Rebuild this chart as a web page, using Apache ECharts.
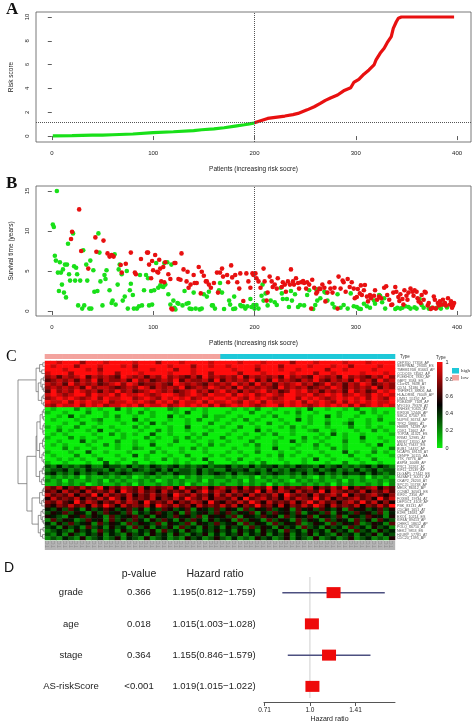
<!DOCTYPE html>
<html>
<head>
<meta charset="utf-8">
<script src="https://cdn.jsdelivr.net/npm/echarts@6.0.0/dist/echarts.min.js"></script>
<style>
    html, body { margin: 0; padding: 0; background: #fff; }
    #main { width: 474px; height: 724px; }
</style>
</head>
<body>
<div id="main"></div>
<script>
// ---------- A: risk score curve ----------
var patientTicks = [0, 100, 200, 300, 400];
var riskTicks = [0, 2, 4, 6, 8, 10];
var riskCut = 1.12;
var cutPatient = 200;
var riskLowX = [1, 20, 40, 50, 60, 80, 100, 120, 140, 148, 160, 170, 181, 190, 195, 200];
var riskLowY = [0.02, 0.04, 0.07, 0.08, 0.11, 0.17, 0.28, 0.36, 0.46, 0.53, 0.6, 0.7, 0.84, 0.95, 1.02, 1.1];
var riskHighX = [200, 213, 230, 238, 243, 252, 259, 265, 270, 275, 282, 288, 295, 298, 303, 308, 313, 318, 320, 324, 328, 331, 335, 337, 340, 342, 345, 397];
var riskHighY = [1.12, 1.48, 1.68, 1.8, 1.9, 2.2, 2.46, 2.74, 3.0, 3.2, 3.45, 3.8, 4.06, 4.5, 4.76, 5.2, 5.55, 5.97, 6.4, 6.95, 7.37, 7.84, 8.35, 9.05, 9.6, 9.9, 10, 10];

// ---------- B: survival time ----------
var timeTicks = [0, 5, 10, 15];
var aliveTime = [[1,10.8],[2,10.5],[5,15.0],[3,6.9],[4,6.3],[6,4.8],[7,2.5],[8,6.1],[9,4.8],[10,3.3],[11,5.2],[12,2.3],[13,5.8],[14,1.7],[15,5.8],[16,8.4],[17,4.6],[18,3.8],[21,9.7],[22,5.6],[23,3.8],[24,5.4],[25,4.6],[26,0.7],[28,3.8],[30,0.3],[31,7.6],[32,0.7],[34,5.8],[35,3.8],[37,0.3],[38,6.3],[39,0.3],[41,5.1],[42,2.4],[45,2.5],[46,9.7],[47,7.3],[48,3.7],[50,0.7],[52,4.5],[53,4.0],[54,5.1],[57,2.6],[59,1.0],[60,1.3],[62,7.1],[63,0.8],[65,3.3],[66,5.2],[67,5.8],[69,4.6],[70,1.3],[72,1.8],[74,5.0],[75,0.3],[77,2.6],[78,3.4],[80,2.0],[81,0.3],[84,0.3],[86,0.6],[87,4.5],[89,0.7],[91,2.6],[93,4.5],[95,4.1],[96,0.7],[98,2.5],[99,0.8],[101,2.6],[103,6.0],[105,2.9],[107,3.2],[108,3.1],[110,3.0],[111,6.0],[112,3.3],[114,6.1],[115,2.1],[117,0.8],[118,5.8],[120,1.3],[121,0.4],[122,0.2],[124,1.0],[125,0.9],[129,0.7],[131,2.5],[133,0.9],[135,1.0],[136,0.3],[138,0.25],[140,2.3],[142,0.3],[146,0.2],[148,0.3],[150,2.1],[153,1.8],[155,2.4],[158,0.7],[159,0.7],[161,0.3],[165,2.6],[166,3.5],[168,2.3],[170,0.25],[175,1.3],[176,0.8],[179,0.25],[180,1.8],[181,0.3],[186,0.75],[187,0.6],[189,0.6],[191,0.3],[193,0.6],[196,1.5],[197,0.5],[199,0.75],[200,0.3],[202,0.75],[204,0.3],[207,1.9],[208,3.3],[209,1.3],[211,2.2],[213,0.7],[216,1.3],[220,1.1],[222,0.75],[226,2.9],[227,2.2],[228,1.5],[232,1.5],[234,0.5],[236,2.5],[237,1.3],[240,2.1],[243,0.5],[245,0.75],[249,0.7],[252,2.0],[254,2.6],[258,0.25],[260,0.75],[261,2.7],[262,1.3],[265,1.6],[269,2.4],[270,2.3],[272,1.3],[277,0.9],[279,0.45],[282,2.1],[285,0.4],[288,0.75],[292,0.3],[295,2.2],[298,0.6],[301,0.5],[303,0.3],[305,0.25],[308,0.9],[311,0.6],[314,0.4],[318,1.3],[319,0.9],[323,2.0],[324,1.9],[326,1.1],[328,1.6],[329,0.3],[339,0.25],[341,0.4],[344,0.3],[346,0.4],[349,0.6],[352,0.5],[354,0.3],[358,0.45],[360,0.3],[363,1.5],[365,0.75],[367,0.4],[372,0.3],[375,0.4],[380,0.4],[382,0.5],[384,0.3],[386,0.8],[390,0.45]];
var deadTime = [[19,9.0],[20,9.9],[27,12.7],[29,7.5],[36,5.3],[43,9.2],[44,7.4],[51,8.8],[55,7.2],[57,6.8],[59,7.0],[60,6.9],[61,6.8],[68,5.75],[69,4.8],[73,5.9],[78,7.3],[82,4.8],[83,4.6],[88,6.5],[94,7.3],[95,7.3],[96,5.8],[98,4.1],[99,6.25],[100,5.1],[102,7.0],[104,4.9],[105,4.8],[106,6.4],[107,5.3],[108,3.7],[110,5.5],[111,3.6],[112,6.1],[115,4.6],[117,4.0],[118,0.3],[119,0.2],[121,6.0],[122,6.0],[125,4.0],[127,3.9],[128,7.2],[130,5.2],[133,3.7],[134,4.9],[135,2.9],[137,3.3],[140,4.5],[141,3.5],[143,3.5],[145,5.5],[147,2.2],[148,4.9],[150,4.4],[152,3.7],[153,3.7],[155,3.3],[157,2.9],[160,3.5],[163,4.8],[164,2.3],[166,4.8],[168,5.3],[169,4.3],[173,4.5],[174,3.6],[177,5.7],[178,4.2],[181,4.5],[183,3.6],[185,2.8],[186,4.7],[189,1.25],[192,4.7],[194,3.7],[196,2.9],[198,4.7],[199,4.5],[201,4.7],[202,4.1],[204,3.7],[206,2.9],[209,5.3],[210,3.7],[212,1.3],[213,2.3],[215,4.3],[217,3.7],[218,3.0],[220,3.3],[222,2.8],[223,4.1],[227,3.0],[228,3.6],[230,3.3],[231,2.4],[233,3.7],[235,3.3],[236,5.2],[238,3.7],[239,3.3],[241,4.1],[243,3.5],[244,2.8],[246,3.6],[248,3.75],[249,3.5],[251,2.8],[252,3.6],[254,3.3],[256,0.3],[257,3.9],[259,2.9],[261,2.2],[262,2.4],[264,2.8],[265,2.75],[267,3.3],[269,2.9],[270,1.2],[272,2.3],[274,3.6],[275,2.8],[277,2.3],[279,2.9],[282,0.3],[283,4.3],[285,2.8],[287,3.8],[288,3.6],[290,2.4],[292,4.0],[294,3.0],[296,3.6],[298,2.8],[299,1.6],[301,1.75],[302,2.75],[304,2.2],[305,3.2],[306,2.0],[308,2.6],[309,3.25],[311,1.8],[312,1.2],[314,2.0],[315,1.6],[318,1.9],[319,2.6],[321,1.4],[323,1.8],[325,1.6],[328,2.9],[330,3.1],[331,2.0],[333,1.4],[335,0.75],[336,0.8],[337,2.3],[339,3.0],[340,2.4],[342,1.75],[343,1.25],[344,2.1],[346,1.5],[347,0.8],[348,2.6],[350,1.9],[351,1.4],[352,2.3],[354,2.8],[356,2.4],[357,1.9],[358,2.6],[360,2.4],[361,1.6],[362,1.2],[364,1.0],[365,2.0],[367,1.4],[368,2.4],[369,2.3],[371,0.7],[372,1.0],[374,0.25],[376,0.4],[377,1.8],[378,1.4],[379,0.3],[381,1.0],[382,0.7],[383,1.2],[385,0.8],[386,1.4],[388,1.0],[389,0.7],[391,1.6],[393,0.8],[394,1.2],[395,0.4],[396,0.7],[397,1.0]];

// ---------- C: heatmap (digit d = value d/9), [low-risk half, high-risk half] ----------
var heatRows = [
    ['998999799989999899979998999989', '999899989999799989999899989999'],
    ['989997999899989799999899979989', '989999899979999899989979999899'],
    ['999899989799999899899979989999', '998999799989989999799899998999'],
    ['899979999899799989999899989979', '999799989999899979989999899989'],
    ['786878968787698786879787686978', '787968787869787698786978768797'],
    ['678786879687786978678796877869', '687879686978768797687869786978'],
    ['878697878678979867787698787687', '879786978687897867978687986787'],
    ['787878697887678798687879678798', '786978787697878678798687879687'],
    ['697879878687978678987867897868', '978687897867989786878697867989'],
    ['898789979889798898789987898798', '897989789879988978989789879898'],
    ['789898789798899789879898978989', '989879898789979898789898979879'],
    ['988979898897889898798979889798', '898798979889897989879798989889'],
    ['879889798978898979889789898979', '789898789979898789898979789898'],
    ['010002010100301001000210010100', '001010200100010300100102001000'],
    ['100100020010001020100010300100', '010002001001020010001000201010'],
    ['001030100010200100100301000201', '100100010200010100301001000100'],
    ['010001001200100301000100102001', '001020100010030100100010010200'],
    ['000100200100010010301000100020', '010001002001000100200130010001'],
    ['101002001001000201000100300100', '100200100010201000100020010100'],
    ['002010010300100010020100100010', '001000301000100120010001002010'],
    ['010100001002010100300100010200', '010010010200100001030100100001'],
    ['100020100100010002010010201000', '200100100010002010100100300100'],
    ['001000301000200100100020010010', '010002000100301001000200100010'],
    ['010100010020100100300100001020', '100010200100010020100100010300'],
    ['000201001000100210010001020100', '001000100300100010020100001002'],
    ['100010030010001000201001000100', '010100200010010001000301002010'],
    ['010002001000100301000100200010', '100010001020100100100020010001'],
    ['001010100200010001002010010300', '010200100010001030010001002000'],
    ['100100010030100200100010100020', '001001020001001000100200100100'],
    ['324232342243324232432342323423', '342324233423243324234232342432'],
    ['233423243324232432342423324232', '243342324232433242342324234233'],
    ['342324232432343223423243324234', '324233423432324234232433424323'],
    ['121212021121212012121120212112', '212112021211212102121211202121'],
    ['212021121202121121201212112021', '121202112121021212112021211212'],
    ['112121201211212021121212021121', '211212120212112121202121121202'],
    ['768576867957687685767859676857', '867586769586767857686957678576'],
    ['675867586768597686758676857968', '758676958687586769587676857686'],
    ['867685769586768576867597686758', '686758676859767586786957678657'],
    ['586768576869758676857686976857', '768596786758687696857678675968'],
    ['768659687576868759676857687596', '576869758676857968675786968575'],
    ['657686758697586768597686758676', '868576967585768697586768576869'],
    ['435364253465346352436534625436', '354263546345264536435264534635'],
    ['354635425364536243564352634536', '463546253645362453625436453624'],
    ['543254635426345635254364536254', '536254364526354625436254365425'],
    ['263542364526353642536425364253', '452635426354263542635426352643'],
    ['425363452635426354362543625436', '345263542635462354263546235426'],
    ['342534263425342635243526342534', '253426354253426342534263425342'],
    ['234325342634253243526342532435', '342534253426342534253426342534'],
    ['324253243524325342534253243524', '243524352435243524325342435243'],
    ['232432523423524325234232534235', '324232534235243252342352342325']
];
var rowLabels = ['CEP350_77358_AP', 'SERPINA1_29345_ES', 'TMEM176B_81663_AP', 'CCDC69_74562_AP', 'PLEKHO1_7830_AP',
    'GBP2_3584_ES', 'C1orf21_9638_AT', 'CD74_74186_ES', 'TNFSF13_38806_AA', 'HLA-DRB1_76049_AP',
    'LIMS1_55192_AP', 'PDE4DIP_7108_AP', 'MYO1G_79378_AT', 'SNHG8_70325_AT', 'KIF20B_12446_AP',
    'SMC4_67567_ES', 'NUP93_36734_AP', 'TPX2_58881_AT', 'HMMR_74289_AP', 'CDK1_11602_AP',
    'TOP2A_41321_ES', 'RRM2_52985_AT', 'MKI67_13550_AP', 'ANLN_79437_ES', 'BUB1_54432_AP',
    'NCAPG_69153_AT', 'CENPF_10115_AA', 'TTK_76776_AP', 'ASPM_10088_AP', 'PRC1_32267_AT',
    'KIF11_12539_AP', 'DLGAP5_27442_ES', 'NUSAP1_30071_AP', 'CKAP2_26203_AT', 'SPC25_55738_AP',
    'MELK_86312_AP', 'CCNB2_30563_ES', 'KIF2C_2356_AP', 'FOXM1_19734_AT', 'DEPDC1_4103_AP',
    'PBK_83131_AP', 'CDCA8_1651_AT', 'E2F8_14681_AP', 'EXO1_10214_ES', 'KIF4A_89413_AP',
    'CHEK1_18612_AP', 'POLQ_66710_AT', 'NEK2_9853_ES', 'HJURP_57781_AT', 'CDC20_1395_AP'];
var sampleIds = ['TCGA-CJ-4642', 'TCGA-B0-5094', 'TCGA-CZ-5985', 'TCGA-A3-3376', 'TCGA-BP-4158', 'TCGA-CW-5580',
    'TCGA-B8-5163', 'TCGA-AK-3456', 'TCGA-BP-4975', 'TCGA-CJ-5681', 'TCGA-B2-4101', 'TCGA-BP-5184',
    'TCGA-AS-3777', 'TCGA-B0-4827', 'TCGA-CZ-5463', 'TCGA-A3-3320', 'TCGA-BP-4331', 'TCGA-CJ-6030',
    'TCGA-B8-4622', 'TCGA-AK-3433', 'TCGA-BP-5000', 'TCGA-CW-6097', 'TCGA-B0-4703', 'TCGA-CZ-4859',
    'TCGA-A3-3362', 'TCGA-BP-4768', 'TCGA-CJ-4868', 'TCGA-B4-5378', 'TCGA-AK-3445', 'TCGA-BP-4345',
    'TCGA-CZ-5454', 'TCGA-B0-5711', 'TCGA-CJ-4905', 'TCGA-A3-3347', 'TCGA-BP-4992', 'TCGA-CW-5591',
    'TCGA-B8-5549', 'TCGA-AK-3461', 'TCGA-BP-4161', 'TCGA-CJ-6031', 'TCGA-B2-5636', 'TCGA-BP-5191',
    'TCGA-AS-3778', 'TCGA-B0-5099', 'TCGA-CZ-5468', 'TCGA-A3-3387', 'TCGA-BP-4167', 'TCGA-CJ-4871',
    'TCGA-B8-4148', 'TCGA-AK-3427', 'TCGA-BP-4998', 'TCGA-CW-5587', 'TCGA-B0-4698', 'TCGA-CZ-4863',
    'TCGA-A3-3358', 'TCGA-BP-4765', 'TCGA-CJ-4895', 'TCGA-B4-5836', 'TCGA-AK-3444', 'TCGA-BP-4352'];
var colorTicks = [0, 0.2, 0.4, 0.6, 0.8, 1];
// dendrogram: [height, left, right], leaves are row indices
var dendroTree = [1.0,
    [0.33,
        [0.2, [0.08, 0, 1], [0.12, 2, 3]],
        [0.25, [0.15, [0.06, 4, 5], [0.1, 6, [0.05, 7, 8]]], [0.12, [0.07, 9, 10], [0.05, 11, 12]]]],
    [0.67,
        [0.33,
            [0.3, [0.18, [0.1, [0.05, 13, 14], [0.06, 15, 16]], [0.08, [0.04, 17, 18], [0.07, 19, 20]]],
                [0.2, [0.09, [0.05, 21, 22], [0.04, 23, 24]], [0.11, [0.06, 25, 26], [0.05, 27, 28]]]],
            [0.2, [0.1, [0.05, 29, 30], 31], [0.12, [0.06, 32, 33], 34]]],
        [0.48,
            [0.2, [0.1, [0.06, 35, 36], 37], [0.12, [0.05, 38, 39], 40]],
            [0.25, [0.15, [0.08, 41, 42], [0.1, 43, [0.05, 44, 45]]], [0.17, [0.07, 46, 47], [0.09, 48, 49]]]]]];

// ---------- D: forest plot ----------
var forestVars = ['grade', 'age', 'stage', 'AS-riskScore'];
var forestP = ['0.366', '0.018', '0.364', '<0.001'];
var forestHR = [1.195, 1.015, 1.155, 1.019];
var forestLow = [0.812, 1.003, 0.846, 1.015];
var forestHigh = [1.759, 1.028, 1.579, 1.022];
var forestTicks = ['0.71', '1.0', '1.41'];
var forestRange = [0.7071, 1.9];
var forestRef = 1;

// ---------- build ----------
var RED = '#e81010', GREEN = '#19e019';
var nLow = heatRows[0][0].length;
var heatData = [];
heatRows.forEach(function (row, r) {
    var s = row[0] + row[1];
    for (var c = 0; c < s.length; c++) {
        heatData.push([c, r, Number(s[c]) / 9]);
    }
});
var dendroLinks = [];
function layoutNode(node) {
    if (typeof node === 'number') {
        return {y: node + 0.5, h: 0};
    }
    var l = layoutNode(node[1]);
    var r = layoutNode(node[2]);
    dendroLinks.push([node[0], l.y, r.y, l.h, r.h]);
    return {y: (l.y + r.y) / 2, h: node[0]};
}
layoutNode(dendroTree);

function zip(xs, ys) {
    return xs.map(function (x, i) { return [x, ys[i]]; });
}
var log2 = function (v) { return Math.log(v) / Math.LN2; };

var hrText = forestHR.map(function (v, i) {
    return v.toFixed(3) + '(' + forestLow[i].toFixed(3) + '\u2212' + forestHigh[i].toFixed(3) + ')';
});

var tickStyle = {color: '#333', width: 0.8};
function patientAxis(grid) {
    return {
        type: 'value', gridIndex: grid, min: -15.6, max: 413.7,
        axisLine: {show: false}, splitLine: {show: false},
        axisTick: {show: true, length: 4, customValues: patientTicks, lineStyle: tickStyle},
        axisLabel: {customValues: patientTicks, fontSize: 6, color: '#222', margin: 8},
        name: 'Patients (increasing risk socre)', nameLocation: 'middle', nameGap: 24,
        nameTextStyle: {fontSize: 6.5, color: '#222'}
    };
}
function valueYAxis(grid, min, max, ticks, title) {
    return {
        type: 'value', gridIndex: grid, min: min, max: max,
        axisLine: {show: false}, splitLine: {show: false},
        axisTick: {show: true, length: 4, customValues: ticks, lineStyle: tickStyle},
        axisLabel: {customValues: ticks, fontSize: 6, color: '#222', margin: 6, rotate: 90},
        name: title, nameLocation: 'middle', nameRotate: 90, nameGap: 21,
        nameTextStyle: {fontSize: 6.5, color: '#222'}
    };
}
function hidden(type, grid, extra) {
    var a = {type: type, gridIndex: grid, show: false};
    for (var k in extra) a[k] = extra[k];
    return a;
}
var dotted = {type: 'dotted', color: '#555', width: 1};

// annotation strip cell, a little wider than the column so neighbours meet
function renderTypeCell(params, api) {
    var c = api.coord([api.value(0), 1]);
    var b = api.coord([api.value(0), 0]);
    var w = api.size([1, 0])[0];
    return {
        type: 'rect',
        shape: {x: c[0] - w / 2 - 0.3, y: c[1], width: w + 0.6, height: b[1] - c[1]},
        style: {fill: api.visual('color')}
    };
}

var chart = echarts.init(document.getElementById('main'));
var option = {
    animation: false,
    backgroundColor: '#fff',
    textStyle: {fontFamily: 'Liberation Sans, Arial, sans-serif'},
    grid: [
        {left: 32, top: 12, width: 439, height: 130, show: true, borderColor: '#555', borderWidth: 0.8},
        {left: 32, top: 186, width: 439, height: 130, show: true, borderColor: '#555', borderWidth: 0.8},
        {left: 45, top: 354, width: 350, height: 5},
        {left: 45, top: 361, width: 350, height: 179},
        {left: 18, top: 361, width: 27, height: 179},
        {left: 437, top: 362, width: 5.5, height: 86},
        {left: 264, top: 577, width: 131, height: 128}
    ],
    xAxis: [
        patientAxis(0),
        patientAxis(1),
        hidden('category', 2, {data: sampleIds, boundaryGap: true}),
        {
            type: 'category', gridIndex: 3, data: sampleIds,
            axisLine: {show: false}, axisTick: {show: false},
            axisLabel: {interval: 0, rotate: 90, fontSize: 5, lineHeight: 6.2, color: '#8c8c8c', margin: 1,
                backgroundColor: '#b3b3b3', width: 9, overflow: 'truncate', ellipsis: ''}
        },
        hidden('value', 4, {min: 0, max: 1, inverse: true}),
        hidden('category', 5, {data: ['bar']}),
        {
            type: 'value', gridIndex: 6, min: log2(forestRange[0]), max: log2(forestRange[1]),
            splitLine: {show: false},
            axisLine: {show: true, lineStyle: {color: '#555', width: 1}},
            axisTick: {show: true, length: 4, customValues: forestTicks.map(function (t) { return log2(+t); }),
                lineStyle: {color: '#555'}},
            axisLabel: {
                customValues: forestTicks.map(function (t) { return log2(+t); }),
                fontSize: 6.5, color: '#222', margin: 5,
                formatter: function (v) {
                    var best = 0;
                    forestTicks.forEach(function (t, i) {
                        if (Math.abs(log2(+t) - v) < Math.abs(log2(+forestTicks[best]) - v)) best = i;
                    });
                    return forestTicks[best];
                }
            },
            name: 'Hazard ratio', nameLocation: 'middle', nameGap: 14,
            nameTextStyle: {fontSize: 7, color: '#222'}
        }
    ],
    yAxis: [
        valueYAxis(0, -0.5, 10.42, riskTicks, 'Risk score'),
        valueYAxis(1, -0.625, 15.625, timeTicks, 'Survival time (years)'),
        hidden('value', 2, {min: 0, max: 1}),
        {
            type: 'category', gridIndex: 3, data: rowLabels, inverse: true, position: 'right',
            axisLine: {show: false}, axisTick: {show: false},
            axisLabel: {interval: 0, fontSize: 3.6, color: '#555', margin: 2}
        },
        hidden('value', 4, {min: 0, max: heatRows.length, inverse: true}),
        {
            type: 'value', gridIndex: 5, min: 0, max: 1, position: 'right',
            axisLine: {show: false}, axisTick: {show: false}, splitLine: {show: false},
            axisLabel: {customValues: colorTicks, fontSize: 5.5, color: '#222', margin: 3}
        },
        {
            type: 'category', gridIndex: 6, data: forestVars, inverse: true,
            axisLine: {show: false}, axisTick: {show: false},
            axisLabel: {
                margin: 0, color: '#222',
                formatter: function (v, i) {
                    return '{a|' + v + '}{b|' + forestP[i] + '}{c|' + hrText[i] + '}';
                },
                rich: {
                    a: {width: 86, align: 'center', fontSize: 9.5, color: '#222'},
                    b: {width: 50, align: 'center', fontSize: 9.5, color: '#222'},
                    c: {width: 100, align: 'center', fontSize: 9.5, color: '#222'}
                }
            }
        }
    ],
    visualMap: [{
        type: 'continuous', seriesIndex: 6, min: 0, max: 1, show: false,
        inRange: {color: ['#0cee0c', '#000000', '#ff0c0c']}
    }],
    legend: {
        data: ['high', 'low'], orient: 'vertical', left: 452, top: 368,
        itemWidth: 7, itemHeight: 5.5, itemGap: 1.5, padding: 0, icon: 'rect',
        selectedMode: false,
        textStyle: {fontSize: 5, color: '#222', fontFamily: 'Liberation Serif, serif', padding: [0, 0, 0, -3]}
    },
    graphic: [
        {type: 'text', left: 6, top: 1, style: {text: 'A', font: 'bold 17px "Liberation Serif", serif', fill: '#111'}},
        {type: 'text', left: 6, top: 175, style: {text: 'B', font: 'bold 17px "Liberation Serif", serif', fill: '#111'}},
        {type: 'text', left: 6, top: 349, style: {text: 'C', font: '16px "Liberation Serif", serif', fill: '#111'}},
        {type: 'text', left: 4, top: 561, style: {text: 'D', font: '14px "Liberation Sans", Arial, sans-serif', fill: '#111'}},
        {type: 'text', left: 400, top: 354, style: {text: 'Type', font: '4.5px "Liberation Sans", Arial', fill: '#333'}},
        {type: 'text', left: 436, top: 355, style: {text: 'Type', font: '4.5px "Liberation Sans", Arial', fill: '#333'}},
        {type: 'text', x: 139, y: 574, style: {text: 'p-value', font: '10.5px "Liberation Sans", Arial', fill: '#222',
            align: 'center', verticalAlign: 'middle'}},
        {type: 'text', x: 215, y: 574, style: {text: 'Hazard ratio', font: '10.5px "Liberation Sans", Arial', fill: '#222',
            align: 'center', verticalAlign: 'middle'}}
    ],
    series: [
        {
            type: 'line', xAxisIndex: 0, yAxisIndex: 0, data: zip(riskLowX, riskLowY),
            symbol: 'none', lineStyle: {color: GREEN, width: 3.2}, silent: true
        },
        {
            type: 'line', xAxisIndex: 0, yAxisIndex: 0, data: zip(riskHighX, riskHighY),
            symbol: 'none', lineStyle: {color: RED, width: 3.2}, silent: true,
            markLine: {silent: true, symbol: ['none', 'none'], label: {show: false}, lineStyle: dotted,
                data: [{yAxis: riskCut}, {xAxis: cutPatient}]}
        },
        {
            type: 'scatter', xAxisIndex: 1, yAxisIndex: 1, data: aliveTime,
            symbolSize: 4.6, itemStyle: {color: GREEN, opacity: 1}, silent: true
        },
        {
            type: 'scatter', xAxisIndex: 1, yAxisIndex: 1, data: deadTime,
            symbolSize: 4.6, itemStyle: {color: RED, opacity: 1}, silent: true,
            markLine: {silent: true, symbol: ['none', 'none'], label: {show: false}, lineStyle: dotted,
                data: [{xAxis: cutPatient}]}
        },
        {
            name: 'high', type: 'custom', xAxisIndex: 2, yAxisIndex: 2, silent: true,
            itemStyle: {color: '#1ec8d8'}, renderItem: renderTypeCell,
            data: sampleIds.map(function (s, i) { return [i, 1]; }).filter(function (d) { return d[0] >= nLow; })
        },
        {
            name: 'low', type: 'custom', xAxisIndex: 2, yAxisIndex: 2, silent: true,
            itemStyle: {color: '#f3a39e'}, renderItem: renderTypeCell,
            data: sampleIds.map(function (s, i) { return [i, 1]; }).filter(function (d) { return d[0] < nLow; })
        },
        {
            type: 'heatmap', xAxisIndex: 3, yAxisIndex: 3, data: heatData, silent: true,
            itemStyle: {borderWidth: 0}
        },
        {
            type: 'custom', xAxisIndex: 4, yAxisIndex: 4, data: dendroLinks, silent: true,
            renderItem: function (params, api) {
                var h = api.value(0), yL = api.value(1), yR = api.value(2);
                return {
                    type: 'polyline',
                    shape: {points: [api.coord([api.value(3), yL]), api.coord([h, yL]),
                        api.coord([h, yR]), api.coord([api.value(4), yR])]},
                    style: {stroke: '#666', lineWidth: 0.7, fill: null}
                };
            }
        },
        {
            type: 'bar', xAxisIndex: 5, yAxisIndex: 5, data: [1], barWidth: '100%', silent: true,
            itemStyle: {color: new echarts.graphic.LinearGradient(0, 0, 0, 1, [
                {offset: 0, color: '#ff0c0c'}, {offset: 0.5, color: '#000'}, {offset: 1, color: '#0cee0c'}])}
        },
        {
            // reference line at HR = 1, drawn below the boxes
            type: 'custom', xAxisIndex: 6, yAxisIndex: 6, silent: true, z: 1,
            data: [[log2(forestRef), 0]],
            renderItem: function (params, api) {
                var x = api.coord([api.value(0), 0])[0];
                var cs = params.coordSys;
                return {type: 'line', shape: {x1: x, y1: cs.y, x2: x, y2: cs.y + cs.height - 4},
                    style: {stroke: '#cfcfcf', lineWidth: 1}};
            }
        },
        {
            type: 'custom', xAxisIndex: 6, yAxisIndex: 6, silent: true, z: 3,
            data: forestVars.map(function (v, i) { return [log2(forestLow[i]), log2(forestHigh[i]), i]; }),
            encode: {x: [0, 1], y: 2},
            renderItem: function (params, api) {
                var a = api.coord([api.value(0), api.value(2)]);
                var b = api.coord([api.value(1), api.value(2)]);
                return {type: 'line', shape: {x1: a[0], y1: a[1], x2: b[0], y2: b[1]},
                    style: {stroke: '#4d5080', lineWidth: 1.5}};
            }
        },
        {
            type: 'scatter', xAxisIndex: 6, yAxisIndex: 6, silent: true, z: 4,
            data: forestHR.map(function (v, i) { return [log2(v), i]; }),
            symbol: 'rect', symbolSize: [14, 11], itemStyle: {color: '#ee0a0a', opacity: 1}
        }
    ]
};
chart.setOption(option);
</script>
</body>
</html>
